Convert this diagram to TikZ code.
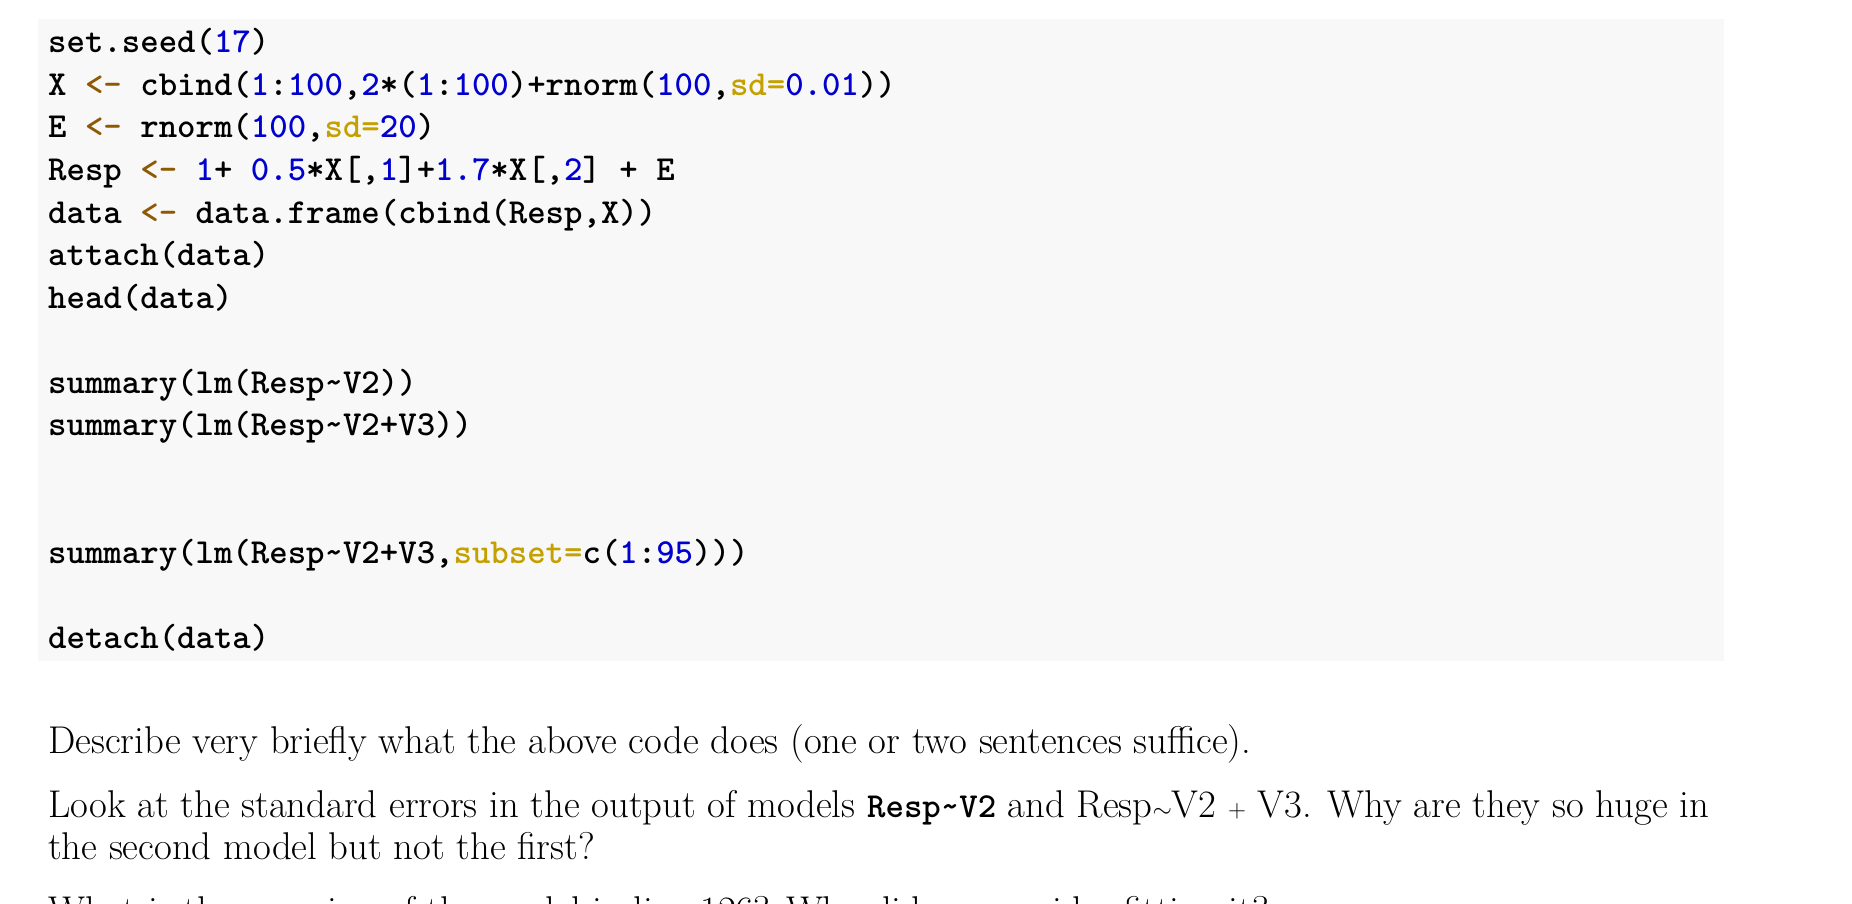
\documentclass[tikz,border=0pt]{standalone}
\usepackage{xcolor}
\definecolor{num}{HTML}{0000CF}
\definecolor{arr}{HTML}{8F5902}
\definecolor{arg}{HTML}{C4A000}
\definecolor{bg}{HTML}{F8F8F8}
\newcommand{\Nm}[1]{\textcolor{num}{#1}}
\newcommand{\Ar}{\textcolor{arr}{<-}}
\newcommand{\Ag}[1]{\textcolor{arg}{#1}}
\newcommand{\tld}{\textasciitilde}
\begin{document}
\begin{tikzpicture}[x=1pt,y=-1pt,
  code/.style={anchor=base west,inner sep=0pt,font=\fontsize{35.1}{42}\selectfont\ttfamily\bfseries},
  prose/.style={anchor=base west,inner sep=0pt,font=\fontsize{38.7}{44}\selectfont}]
\useasboundingbox (0,0) rectangle (1852,904);
\fill[bg] (38,19) rectangle (1724,661);
\node[code] (c1) at (48,53) {set.seed(\Nm{17})};
\node[code] (c2) at (48,95.5) {X \Ar{} cbind(\Nm{1}:\Nm{100},\Nm{2}*(\Nm{1}:\Nm{100})+rnorm(\Nm{100},\Ag{sd=}\Nm{0.01}))};
\node[code] (c3) at (48,138) {E \Ar{} rnorm(\Nm{100},\Ag{sd=}\Nm{20})};
\node[code] (c4) at (48,180.5) {Resp \Ar{} \Nm{1}+ \Nm{0.5}*X[,\Nm{1}]+\Nm{1.7}*X[,\Nm{2}] + E};
\node[code] (c5) at (48,223) {data \Ar{} data.frame(cbind(Resp,X))};
\node[code] (c6) at (48,265.5) {attach(data)};
\node[code] (c7) at (48,308) {head(data)};
\node[code] (c8) at (48,393) {summary(lm(Resp\tld V2))};
\node[code] (c9) at (48,435.5) {summary(lm(Resp\tld V2+V3))};
\node[code] (c10) at (48,563) {summary(lm(Resp\tld V2+V3,\Ag{subset=}c(\Nm{1}:\Nm{95})))};
\node[code] (c11) at (48,648) {detach(data)};
\node[prose] (p1) at (48,753) {Describe very briefly what the above code does (one or two sentences suffice).};
\node[prose] (p2) at (48,817) {Look at the standard errors in the output of models {\fontsize{35.1}{42}\selectfont\ttfamily\bfseries Resp\tld V2} and Resp$\sim$V2 $+$ V3. Why are they so huge in};
\node[prose] (p3) at (48,859) {the second model but not the first?};
\node[prose] (p4) at (48,923) {What is the meaning of the model in line 126? Why did we consider fitting it?};
\end{tikzpicture}
\end{document}
